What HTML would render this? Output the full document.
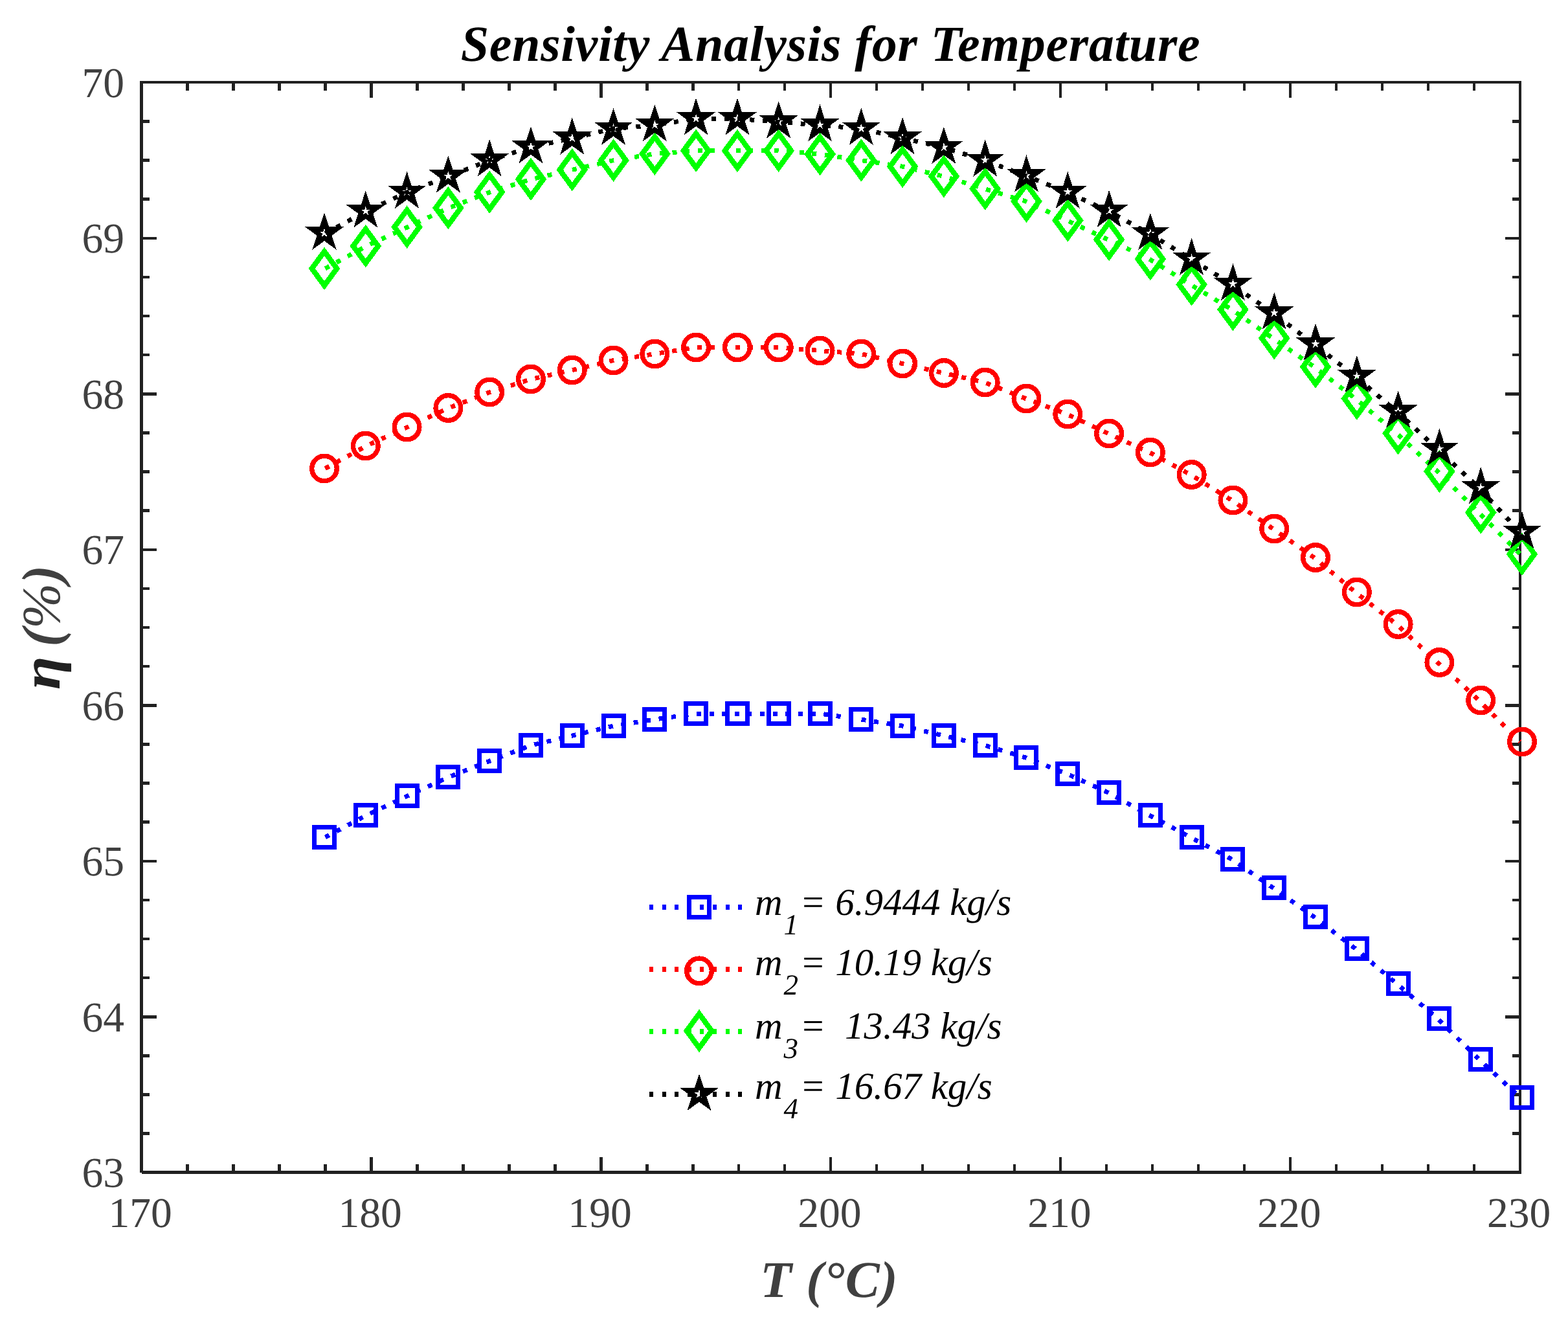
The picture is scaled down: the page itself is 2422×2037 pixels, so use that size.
<!DOCTYPE html>
<html lang="en"><head><meta charset="utf-8"><title>Sensivity Analysis for Temperature</title>
<style>html,body{margin:0;padding:0;background:#fff}body{width:2422px;height:2037px;overflow:hidden}svg{display:block}text{font-family:"Liberation Serif",serif}</style>
</head><body>
<svg width="2422" height="2037" viewBox="0 0 2422 2037" shape-rendering="crispEdges" text-rendering="geometricPrecision">
<rect x="0" y="0" width="2422" height="2037" fill="#ffffff"/>
<g stroke="#212121" stroke-width="4.4" fill="none" stroke-linecap="butt">
<line x1="216.3" y1="127" x2="2350.2" y2="127"/>
<line x1="218.5" y1="1810.5" x2="2350.2" y2="1810.5"/>
<line x1="218.5" y1="124.8" x2="218.5" y2="1811"/>
<line x1="2348" y1="124.8" x2="2348" y2="1812.7"/>
<line x1="289.48" y1="1810.5" x2="289.48" y2="1797.65"/>
<line x1="289.48" y1="127" x2="289.48" y2="139.85"/>
<line x1="360.47" y1="1810.5" x2="360.47" y2="1797.65"/>
<line x1="360.47" y1="127" x2="360.47" y2="139.85"/>
<line x1="431.45" y1="1810.5" x2="431.45" y2="1797.65"/>
<line x1="431.45" y1="127" x2="431.45" y2="139.85"/>
<line x1="502.43" y1="1810.5" x2="502.43" y2="1797.65"/>
<line x1="502.43" y1="127" x2="502.43" y2="139.85"/>
<line x1="573.42" y1="1810.5" x2="573.42" y2="1787"/>
<line x1="573.42" y1="127" x2="573.42" y2="150.5"/>
<line x1="644.4" y1="1810.5" x2="644.4" y2="1797.65"/>
<line x1="644.4" y1="127" x2="644.4" y2="139.85"/>
<line x1="715.38" y1="1810.5" x2="715.38" y2="1797.65"/>
<line x1="715.38" y1="127" x2="715.38" y2="139.85"/>
<line x1="786.37" y1="1810.5" x2="786.37" y2="1797.65"/>
<line x1="786.37" y1="127" x2="786.37" y2="139.85"/>
<line x1="857.35" y1="1810.5" x2="857.35" y2="1797.65"/>
<line x1="857.35" y1="127" x2="857.35" y2="139.85"/>
<line x1="928.33" y1="1810.5" x2="928.33" y2="1787"/>
<line x1="928.33" y1="127" x2="928.33" y2="150.5"/>
<line x1="999.32" y1="1810.5" x2="999.32" y2="1797.65"/>
<line x1="999.32" y1="127" x2="999.32" y2="139.85"/>
<line x1="1070.3" y1="1810.5" x2="1070.3" y2="1797.65"/>
<line x1="1070.3" y1="127" x2="1070.3" y2="139.85"/>
<line x1="1141.28" y1="1810.5" x2="1141.28" y2="1797.65"/>
<line x1="1141.28" y1="127" x2="1141.28" y2="139.85"/>
<line x1="1212.27" y1="1810.5" x2="1212.27" y2="1797.65"/>
<line x1="1212.27" y1="127" x2="1212.27" y2="139.85"/>
<line x1="1283.25" y1="1810.5" x2="1283.25" y2="1787"/>
<line x1="1283.25" y1="127" x2="1283.25" y2="150.5"/>
<line x1="1354.23" y1="1810.5" x2="1354.23" y2="1797.65"/>
<line x1="1354.23" y1="127" x2="1354.23" y2="139.85"/>
<line x1="1425.22" y1="1810.5" x2="1425.22" y2="1797.65"/>
<line x1="1425.22" y1="127" x2="1425.22" y2="139.85"/>
<line x1="1496.2" y1="1810.5" x2="1496.2" y2="1797.65"/>
<line x1="1496.2" y1="127" x2="1496.2" y2="139.85"/>
<line x1="1567.18" y1="1810.5" x2="1567.18" y2="1797.65"/>
<line x1="1567.18" y1="127" x2="1567.18" y2="139.85"/>
<line x1="1638.17" y1="1810.5" x2="1638.17" y2="1787"/>
<line x1="1638.17" y1="127" x2="1638.17" y2="150.5"/>
<line x1="1709.15" y1="1810.5" x2="1709.15" y2="1797.65"/>
<line x1="1709.15" y1="127" x2="1709.15" y2="139.85"/>
<line x1="1780.13" y1="1810.5" x2="1780.13" y2="1797.65"/>
<line x1="1780.13" y1="127" x2="1780.13" y2="139.85"/>
<line x1="1851.12" y1="1810.5" x2="1851.12" y2="1797.65"/>
<line x1="1851.12" y1="127" x2="1851.12" y2="139.85"/>
<line x1="1922.1" y1="1810.5" x2="1922.1" y2="1797.65"/>
<line x1="1922.1" y1="127" x2="1922.1" y2="139.85"/>
<line x1="1993.08" y1="1810.5" x2="1993.08" y2="1787"/>
<line x1="1993.08" y1="127" x2="1993.08" y2="150.5"/>
<line x1="2064.07" y1="1810.5" x2="2064.07" y2="1797.65"/>
<line x1="2064.07" y1="127" x2="2064.07" y2="139.85"/>
<line x1="2135.05" y1="1810.5" x2="2135.05" y2="1797.65"/>
<line x1="2135.05" y1="127" x2="2135.05" y2="139.85"/>
<line x1="2206.03" y1="1810.5" x2="2206.03" y2="1797.65"/>
<line x1="2206.03" y1="127" x2="2206.03" y2="139.85"/>
<line x1="2277.02" y1="1810.5" x2="2277.02" y2="1797.65"/>
<line x1="2277.02" y1="127" x2="2277.02" y2="139.85"/>
<line x1="218.5" y1="1750.67" x2="231.35" y2="1750.67"/>
<line x1="2348" y1="1750.67" x2="2336.05" y2="1750.67"/>
<line x1="218.5" y1="1690.55" x2="231.35" y2="1690.55"/>
<line x1="2348" y1="1690.55" x2="2336.05" y2="1690.55"/>
<line x1="218.5" y1="1630.42" x2="231.35" y2="1630.42"/>
<line x1="2348" y1="1630.42" x2="2336.05" y2="1630.42"/>
<line x1="218.5" y1="1570.3" x2="242" y2="1570.3"/>
<line x1="2348" y1="1570.3" x2="2325.4" y2="1570.3"/>
<line x1="218.5" y1="1510.17" x2="231.35" y2="1510.17"/>
<line x1="2348" y1="1510.17" x2="2336.05" y2="1510.17"/>
<line x1="218.5" y1="1450.05" x2="231.35" y2="1450.05"/>
<line x1="2348" y1="1450.05" x2="2336.05" y2="1450.05"/>
<line x1="218.5" y1="1389.92" x2="231.35" y2="1389.92"/>
<line x1="2348" y1="1389.92" x2="2336.05" y2="1389.92"/>
<line x1="218.5" y1="1329.8" x2="242" y2="1329.8"/>
<line x1="2348" y1="1329.8" x2="2325.4" y2="1329.8"/>
<line x1="218.5" y1="1269.67" x2="231.35" y2="1269.67"/>
<line x1="2348" y1="1269.67" x2="2336.05" y2="1269.67"/>
<line x1="218.5" y1="1209.55" x2="231.35" y2="1209.55"/>
<line x1="2348" y1="1209.55" x2="2336.05" y2="1209.55"/>
<line x1="218.5" y1="1149.42" x2="231.35" y2="1149.42"/>
<line x1="2348" y1="1149.42" x2="2336.05" y2="1149.42"/>
<line x1="218.5" y1="1089.3" x2="242" y2="1089.3"/>
<line x1="2348" y1="1089.3" x2="2325.4" y2="1089.3"/>
<line x1="218.5" y1="1029.17" x2="231.35" y2="1029.17"/>
<line x1="2348" y1="1029.17" x2="2336.05" y2="1029.17"/>
<line x1="218.5" y1="969.05" x2="231.35" y2="969.05"/>
<line x1="2348" y1="969.05" x2="2336.05" y2="969.05"/>
<line x1="218.5" y1="908.92" x2="231.35" y2="908.92"/>
<line x1="2348" y1="908.92" x2="2336.05" y2="908.92"/>
<line x1="218.5" y1="848.8" x2="242" y2="848.8"/>
<line x1="2348" y1="848.8" x2="2325.4" y2="848.8"/>
<line x1="218.5" y1="788.67" x2="231.35" y2="788.67"/>
<line x1="2348" y1="788.67" x2="2336.05" y2="788.67"/>
<line x1="218.5" y1="728.55" x2="231.35" y2="728.55"/>
<line x1="2348" y1="728.55" x2="2336.05" y2="728.55"/>
<line x1="218.5" y1="668.42" x2="231.35" y2="668.42"/>
<line x1="2348" y1="668.42" x2="2336.05" y2="668.42"/>
<line x1="218.5" y1="608.3" x2="242" y2="608.3"/>
<line x1="2348" y1="608.3" x2="2325.4" y2="608.3"/>
<line x1="218.5" y1="548.17" x2="231.35" y2="548.17"/>
<line x1="2348" y1="548.17" x2="2336.05" y2="548.17"/>
<line x1="218.5" y1="488.05" x2="231.35" y2="488.05"/>
<line x1="2348" y1="488.05" x2="2336.05" y2="488.05"/>
<line x1="218.5" y1="427.93" x2="231.35" y2="427.93"/>
<line x1="2348" y1="427.93" x2="2336.05" y2="427.93"/>
<line x1="218.5" y1="367.8" x2="242" y2="367.8"/>
<line x1="2348" y1="367.8" x2="2325.4" y2="367.8"/>
<line x1="218.5" y1="307.68" x2="231.35" y2="307.68"/>
<line x1="2348" y1="307.68" x2="2336.05" y2="307.68"/>
<line x1="218.5" y1="247.55" x2="231.35" y2="247.55"/>
<line x1="2348" y1="247.55" x2="2336.05" y2="247.55"/>
<line x1="218.5" y1="187.43" x2="231.35" y2="187.43"/>
<line x1="2348" y1="187.43" x2="2336.05" y2="187.43"/>
</g>
<g fill="#404040" font-size="65.6px">
<text x="216.7" y="1894.8" text-anchor="middle">170</text>
<text x="571.62" y="1894.8" text-anchor="middle">180</text>
<text x="926.53" y="1894.8" text-anchor="middle">190</text>
<text x="1281.45" y="1894.8" text-anchor="middle">200</text>
<text x="1636.37" y="1894.8" text-anchor="middle">210</text>
<text x="1991.28" y="1894.8" text-anchor="middle">220</text>
<text x="2346.2" y="1894.8" text-anchor="middle">230</text>
<text x="192" y="1833" text-anchor="end">63</text>
<text x="192" y="1592.5" text-anchor="end">64</text>
<text x="192" y="1352" text-anchor="end">65</text>
<text x="192" y="1111.5" text-anchor="end">66</text>
<text x="192" y="871" text-anchor="end">67</text>
<text x="192" y="630.5" text-anchor="end">68</text>
<text x="192" y="390" text-anchor="end">69</text>
<text x="192" y="149.5" text-anchor="end">70</text>
</g>
<text x="1283" y="94" text-anchor="middle" font-size="78px" letter-spacing="0.7" font-weight="bold" font-style="italic" fill="#000000">Sensivity Analysis for Temperature</text>
<text x="1281" y="2003" text-anchor="middle" font-size="79.5px" letter-spacing="1.2" font-weight="bold" font-style="italic" fill="#404040">T (°C)</text>
<text transform="translate(92.3,1065.3) rotate(-90) scale(1.12,1)" font-size="84.5px" font-weight="bold" font-style="italic" fill="#212121">η</text>
<text transform="translate(92,998.7) rotate(-90)" font-size="84px" font-weight="bold" font-style="italic" fill="#404040">(<tspan font-weight="normal">%</tspan>)</text>
<g>
<polyline points="502.4,1293 566.04,1259 629.68,1229 693.32,1200 756.97,1175 820.61,1151 884.25,1136 947.89,1121 1011.53,1111 1075.17,1102 1138.81,1102 1202.46,1102 1266.1,1102 1329.74,1111 1393.38,1121 1457.02,1136 1520.66,1151 1584.3,1170 1647.94,1195 1711.59,1224 1775.23,1259 1838.87,1293 1902.51,1327 1966.15,1371 2029.79,1416 2093.43,1465 2157.08,1519 2220.72,1573 2284.36,1636 2348,1695" fill="none" stroke="#0000ff" stroke-width="7" stroke-dasharray="7 12.645"/>
<rect x="485.5" y="1277.5" width="31" height="31" fill="none" stroke="#0000ff" stroke-width="7"/>
<rect x="549.29" y="1243.5" width="31" height="31" fill="none" stroke="#0000ff" stroke-width="7"/>
<rect x="613.09" y="1213.5" width="31" height="31" fill="none" stroke="#0000ff" stroke-width="7"/>
<rect x="676.88" y="1184.5" width="31" height="31" fill="none" stroke="#0000ff" stroke-width="7"/>
<rect x="740.67" y="1159.5" width="31" height="31" fill="none" stroke="#0000ff" stroke-width="7"/>
<rect x="804.47" y="1135.5" width="31" height="31" fill="none" stroke="#0000ff" stroke-width="7"/>
<rect x="868.26" y="1120.5" width="31" height="31" fill="none" stroke="#0000ff" stroke-width="7"/>
<rect x="932.05" y="1105.5" width="31" height="31" fill="none" stroke="#0000ff" stroke-width="7"/>
<rect x="995.84" y="1095.5" width="31" height="31" fill="none" stroke="#0000ff" stroke-width="7"/>
<rect x="1059.64" y="1086.5" width="31" height="31" fill="none" stroke="#0000ff" stroke-width="7"/>
<rect x="1123.43" y="1086.5" width="31" height="31" fill="none" stroke="#0000ff" stroke-width="7"/>
<rect x="1187.22" y="1086.5" width="31" height="31" fill="none" stroke="#0000ff" stroke-width="7"/>
<rect x="1251.02" y="1086.5" width="31" height="31" fill="none" stroke="#0000ff" stroke-width="7"/>
<rect x="1314.81" y="1095.5" width="31" height="31" fill="none" stroke="#0000ff" stroke-width="7"/>
<rect x="1378.6" y="1105.5" width="31" height="31" fill="none" stroke="#0000ff" stroke-width="7"/>
<rect x="1442.4" y="1120.5" width="31" height="31" fill="none" stroke="#0000ff" stroke-width="7"/>
<rect x="1506.19" y="1135.5" width="31" height="31" fill="none" stroke="#0000ff" stroke-width="7"/>
<rect x="1569.98" y="1154.5" width="31" height="31" fill="none" stroke="#0000ff" stroke-width="7"/>
<rect x="1633.78" y="1179.5" width="31" height="31" fill="none" stroke="#0000ff" stroke-width="7"/>
<rect x="1697.57" y="1208.5" width="31" height="31" fill="none" stroke="#0000ff" stroke-width="7"/>
<rect x="1761.36" y="1243.5" width="31" height="31" fill="none" stroke="#0000ff" stroke-width="7"/>
<rect x="1825.16" y="1277.5" width="31" height="31" fill="none" stroke="#0000ff" stroke-width="7"/>
<rect x="1888.95" y="1311.5" width="31" height="31" fill="none" stroke="#0000ff" stroke-width="7"/>
<rect x="1952.74" y="1355.5" width="31" height="31" fill="none" stroke="#0000ff" stroke-width="7"/>
<rect x="2016.53" y="1400.5" width="31" height="31" fill="none" stroke="#0000ff" stroke-width="7"/>
<rect x="2080.33" y="1449.5" width="31" height="31" fill="none" stroke="#0000ff" stroke-width="7"/>
<rect x="2144.12" y="1503.5" width="31" height="31" fill="none" stroke="#0000ff" stroke-width="7"/>
<rect x="2207.91" y="1557.5" width="31" height="31" fill="none" stroke="#0000ff" stroke-width="7"/>
<rect x="2271.71" y="1620.5" width="31" height="31" fill="none" stroke="#0000ff" stroke-width="7"/>
<rect x="2335.5" y="1679.5" width="31" height="31" fill="none" stroke="#0000ff" stroke-width="7"/>
<polyline points="502.4,723.5 566.04,688.5 629.68,659.5 693.32,630 756.97,605.5 820.61,585.5 884.25,571.5 947.89,556.5 1011.53,546.5 1075.17,536.5 1138.81,536.5 1202.46,536.5 1266.1,541.5 1329.74,546.5 1393.38,561.5 1457.02,576 1520.66,590.5 1584.3,615.5 1647.94,639.5 1711.59,669.5 1775.23,698.5 1838.87,733 1902.51,772.5 1966.15,816.5 2029.79,861 2093.43,914.5 2157.08,964 2220.72,1023 2284.36,1081.5 2348,1145.5" fill="none" stroke="#ff0000" stroke-width="7" stroke-dasharray="7 12.645"/>
<circle cx="501" cy="723.5" r="19.3" fill="none" stroke="#ff0000" stroke-width="7.4"/>
<circle cx="564.79" cy="688.5" r="19.3" fill="none" stroke="#ff0000" stroke-width="7.4"/>
<circle cx="628.59" cy="659.5" r="19.3" fill="none" stroke="#ff0000" stroke-width="7.4"/>
<circle cx="692.38" cy="630" r="19.3" fill="none" stroke="#ff0000" stroke-width="7.4"/>
<circle cx="756.17" cy="605.5" r="19.3" fill="none" stroke="#ff0000" stroke-width="7.4"/>
<circle cx="819.97" cy="585.5" r="19.3" fill="none" stroke="#ff0000" stroke-width="7.4"/>
<circle cx="883.76" cy="571.5" r="19.3" fill="none" stroke="#ff0000" stroke-width="7.4"/>
<circle cx="947.55" cy="556.5" r="19.3" fill="none" stroke="#ff0000" stroke-width="7.4"/>
<circle cx="1011.34" cy="546.5" r="19.3" fill="none" stroke="#ff0000" stroke-width="7.4"/>
<circle cx="1075.14" cy="536.5" r="19.3" fill="none" stroke="#ff0000" stroke-width="7.4"/>
<circle cx="1138.93" cy="536.5" r="19.3" fill="none" stroke="#ff0000" stroke-width="7.4"/>
<circle cx="1202.72" cy="536.5" r="19.3" fill="none" stroke="#ff0000" stroke-width="7.4"/>
<circle cx="1266.52" cy="541.5" r="19.3" fill="none" stroke="#ff0000" stroke-width="7.4"/>
<circle cx="1330.31" cy="546.5" r="19.3" fill="none" stroke="#ff0000" stroke-width="7.4"/>
<circle cx="1394.1" cy="561.5" r="19.3" fill="none" stroke="#ff0000" stroke-width="7.4"/>
<circle cx="1457.9" cy="576" r="19.3" fill="none" stroke="#ff0000" stroke-width="7.4"/>
<circle cx="1521.69" cy="590.5" r="19.3" fill="none" stroke="#ff0000" stroke-width="7.4"/>
<circle cx="1585.48" cy="615.5" r="19.3" fill="none" stroke="#ff0000" stroke-width="7.4"/>
<circle cx="1649.28" cy="639.5" r="19.3" fill="none" stroke="#ff0000" stroke-width="7.4"/>
<circle cx="1713.07" cy="669.5" r="19.3" fill="none" stroke="#ff0000" stroke-width="7.4"/>
<circle cx="1776.86" cy="698.5" r="19.3" fill="none" stroke="#ff0000" stroke-width="7.4"/>
<circle cx="1840.66" cy="733" r="19.3" fill="none" stroke="#ff0000" stroke-width="7.4"/>
<circle cx="1904.45" cy="772.5" r="19.3" fill="none" stroke="#ff0000" stroke-width="7.4"/>
<circle cx="1968.24" cy="816.5" r="19.3" fill="none" stroke="#ff0000" stroke-width="7.4"/>
<circle cx="2032.03" cy="861" r="19.3" fill="none" stroke="#ff0000" stroke-width="7.4"/>
<circle cx="2095.83" cy="914.5" r="19.3" fill="none" stroke="#ff0000" stroke-width="7.4"/>
<circle cx="2159.62" cy="964" r="19.3" fill="none" stroke="#ff0000" stroke-width="7.4"/>
<circle cx="2223.41" cy="1023" r="19.3" fill="none" stroke="#ff0000" stroke-width="7.4"/>
<circle cx="2287.21" cy="1081.5" r="19.3" fill="none" stroke="#ff0000" stroke-width="7.4"/>
<circle cx="2351" cy="1145.5" r="19.3" fill="none" stroke="#ff0000" stroke-width="7.4"/>
<polyline points="502.4,414.7 566.04,380 629.68,350.6 693.32,321.1 756.97,296.6 820.61,276.8 884.25,262.2 947.89,247.6 1011.53,237.6 1075.17,232.7 1138.81,232.9 1202.46,232.7 1266.1,238 1329.74,247.5 1393.38,257.1 1457.02,272.2 1520.66,291.5 1584.3,310.9 1647.94,340.4 1711.59,370 1775.23,400 1838.87,439.4 1902.51,478 1966.15,522.3 2029.79,566.5 2093.43,615.5 2157.08,669.2 2220.72,727.9 2284.36,791.5 2348,855.8" fill="none" stroke="#00ff00" stroke-width="7" stroke-dasharray="7 12.645"/>
<polygon points="501,388.4 520.3,414.7 501,441 481.7,414.7" fill="none" stroke="#00ff00" stroke-width="8.2" stroke-linejoin="miter" stroke-miterlimit="10"/>
<polygon points="564.79,353.7 584.09,380 564.79,406.3 545.49,380" fill="none" stroke="#00ff00" stroke-width="8.2" stroke-linejoin="miter" stroke-miterlimit="10"/>
<polygon points="628.59,324.3 647.89,350.6 628.59,376.9 609.29,350.6" fill="none" stroke="#00ff00" stroke-width="8.2" stroke-linejoin="miter" stroke-miterlimit="10"/>
<polygon points="692.38,294.8 711.68,321.1 692.38,347.4 673.08,321.1" fill="none" stroke="#00ff00" stroke-width="8.2" stroke-linejoin="miter" stroke-miterlimit="10"/>
<polygon points="756.17,270.3 775.47,296.6 756.17,322.9 736.87,296.6" fill="none" stroke="#00ff00" stroke-width="8.2" stroke-linejoin="miter" stroke-miterlimit="10"/>
<polygon points="819.97,250.5 839.27,276.8 819.97,303.1 800.67,276.8" fill="none" stroke="#00ff00" stroke-width="8.2" stroke-linejoin="miter" stroke-miterlimit="10"/>
<polygon points="883.76,235.9 903.06,262.2 883.76,288.5 864.46,262.2" fill="none" stroke="#00ff00" stroke-width="8.2" stroke-linejoin="miter" stroke-miterlimit="10"/>
<polygon points="947.55,221.3 966.85,247.6 947.55,273.9 928.25,247.6" fill="none" stroke="#00ff00" stroke-width="8.2" stroke-linejoin="miter" stroke-miterlimit="10"/>
<polygon points="1011.34,211.3 1030.64,237.6 1011.34,263.9 992.04,237.6" fill="none" stroke="#00ff00" stroke-width="8.2" stroke-linejoin="miter" stroke-miterlimit="10"/>
<polygon points="1075.14,206.4 1094.44,232.7 1075.14,259 1055.84,232.7" fill="none" stroke="#00ff00" stroke-width="8.2" stroke-linejoin="miter" stroke-miterlimit="10"/>
<polygon points="1138.93,206.6 1158.23,232.9 1138.93,259.2 1119.63,232.9" fill="none" stroke="#00ff00" stroke-width="8.2" stroke-linejoin="miter" stroke-miterlimit="10"/>
<polygon points="1202.72,206.4 1222.02,232.7 1202.72,259 1183.42,232.7" fill="none" stroke="#00ff00" stroke-width="8.2" stroke-linejoin="miter" stroke-miterlimit="10"/>
<polygon points="1266.52,211.7 1285.82,238 1266.52,264.3 1247.22,238" fill="none" stroke="#00ff00" stroke-width="8.2" stroke-linejoin="miter" stroke-miterlimit="10"/>
<polygon points="1330.31,221.2 1349.61,247.5 1330.31,273.8 1311.01,247.5" fill="none" stroke="#00ff00" stroke-width="8.2" stroke-linejoin="miter" stroke-miterlimit="10"/>
<polygon points="1394.1,230.8 1413.4,257.1 1394.1,283.4 1374.8,257.1" fill="none" stroke="#00ff00" stroke-width="8.2" stroke-linejoin="miter" stroke-miterlimit="10"/>
<polygon points="1457.9,245.9 1477.2,272.2 1457.9,298.5 1438.6,272.2" fill="none" stroke="#00ff00" stroke-width="8.2" stroke-linejoin="miter" stroke-miterlimit="10"/>
<polygon points="1521.69,265.2 1540.99,291.5 1521.69,317.8 1502.39,291.5" fill="none" stroke="#00ff00" stroke-width="8.2" stroke-linejoin="miter" stroke-miterlimit="10"/>
<polygon points="1585.48,284.6 1604.78,310.9 1585.48,337.2 1566.18,310.9" fill="none" stroke="#00ff00" stroke-width="8.2" stroke-linejoin="miter" stroke-miterlimit="10"/>
<polygon points="1649.28,314.1 1668.58,340.4 1649.28,366.7 1629.98,340.4" fill="none" stroke="#00ff00" stroke-width="8.2" stroke-linejoin="miter" stroke-miterlimit="10"/>
<polygon points="1713.07,343.7 1732.37,370 1713.07,396.3 1693.77,370" fill="none" stroke="#00ff00" stroke-width="8.2" stroke-linejoin="miter" stroke-miterlimit="10"/>
<polygon points="1776.86,373.7 1796.16,400 1776.86,426.3 1757.56,400" fill="none" stroke="#00ff00" stroke-width="8.2" stroke-linejoin="miter" stroke-miterlimit="10"/>
<polygon points="1840.66,413.1 1859.96,439.4 1840.66,465.7 1821.36,439.4" fill="none" stroke="#00ff00" stroke-width="8.2" stroke-linejoin="miter" stroke-miterlimit="10"/>
<polygon points="1904.45,451.7 1923.75,478 1904.45,504.3 1885.15,478" fill="none" stroke="#00ff00" stroke-width="8.2" stroke-linejoin="miter" stroke-miterlimit="10"/>
<polygon points="1968.24,496 1987.54,522.3 1968.24,548.6 1948.94,522.3" fill="none" stroke="#00ff00" stroke-width="8.2" stroke-linejoin="miter" stroke-miterlimit="10"/>
<polygon points="2032.03,540.2 2051.33,566.5 2032.03,592.8 2012.73,566.5" fill="none" stroke="#00ff00" stroke-width="8.2" stroke-linejoin="miter" stroke-miterlimit="10"/>
<polygon points="2095.83,589.2 2115.13,615.5 2095.83,641.8 2076.53,615.5" fill="none" stroke="#00ff00" stroke-width="8.2" stroke-linejoin="miter" stroke-miterlimit="10"/>
<polygon points="2159.62,642.9 2178.92,669.2 2159.62,695.5 2140.32,669.2" fill="none" stroke="#00ff00" stroke-width="8.2" stroke-linejoin="miter" stroke-miterlimit="10"/>
<polygon points="2223.41,701.6 2242.71,727.9 2223.41,754.2 2204.11,727.9" fill="none" stroke="#00ff00" stroke-width="8.2" stroke-linejoin="miter" stroke-miterlimit="10"/>
<polygon points="2287.21,765.2 2306.51,791.5 2287.21,817.8 2267.91,791.5" fill="none" stroke="#00ff00" stroke-width="8.2" stroke-linejoin="miter" stroke-miterlimit="10"/>
<polygon points="2351,829.5 2370.3,855.8 2351,882.1 2331.7,855.8" fill="none" stroke="#00ff00" stroke-width="8.2" stroke-linejoin="miter" stroke-miterlimit="10"/>
<polyline points="502.4,360.3 566.04,326.3 629.68,296.6 693.32,272.3 756.97,247.2 820.61,227.1 884.25,213.5 947.89,198.6 1011.53,193.2 1075.17,183.3 1138.81,183.3 1202.46,188.3 1266.1,193.2 1329.74,198.7 1393.38,213.1 1457.02,227.7 1520.66,247.6 1584.3,271.3 1647.94,296.7 1711.59,325.7 1775.23,360.6 1838.87,399.7 1902.51,438.9 1966.15,483.4 2029.79,531.5 2093.43,581.1 2157.08,635.3 2220.72,693.7 2284.36,753.2 2348,821.8" fill="none" stroke="#000000" stroke-width="7" stroke-dasharray="7 12.645"/>
<polygon points="501,340.5 505.38,353.97 519.55,353.97 508.08,362.3 512.46,375.78 501,367.45 489.54,375.78 493.92,362.3 482.45,353.97 496.62,353.97" fill="none" stroke="#000000" stroke-width="7.5" stroke-linejoin="miter" stroke-miterlimit="10"/>
<polygon points="564.79,306.5 569.17,319.97 583.34,319.97 571.88,328.3 576.25,341.78 564.79,333.45 553.33,341.78 557.71,328.3 546.25,319.97 560.42,319.97" fill="none" stroke="#000000" stroke-width="7.5" stroke-linejoin="miter" stroke-miterlimit="10"/>
<polygon points="628.59,276.8 632.96,290.27 647.13,290.27 635.67,298.6 640.05,312.08 628.59,303.75 617.12,312.08 621.5,298.6 610.04,290.27 624.21,290.27" fill="none" stroke="#000000" stroke-width="7.5" stroke-linejoin="miter" stroke-miterlimit="10"/>
<polygon points="692.38,252.5 696.76,265.97 710.92,265.97 699.46,274.3 703.84,287.78 692.38,279.45 680.92,287.78 685.3,274.3 673.83,265.97 688,265.97" fill="none" stroke="#000000" stroke-width="7.5" stroke-linejoin="miter" stroke-miterlimit="10"/>
<polygon points="756.17,227.4 760.55,240.87 774.72,240.87 763.26,249.2 767.63,262.68 756.17,254.35 744.71,262.68 749.09,249.2 737.63,240.87 751.79,240.87" fill="none" stroke="#000000" stroke-width="7.5" stroke-linejoin="miter" stroke-miterlimit="10"/>
<polygon points="819.97,207.3 824.34,220.77 838.51,220.77 827.05,229.1 831.43,242.58 819.97,234.25 808.5,242.58 812.88,229.1 801.42,220.77 815.59,220.77" fill="none" stroke="#000000" stroke-width="7.5" stroke-linejoin="miter" stroke-miterlimit="10"/>
<polygon points="883.76,193.7 888.14,207.17 902.3,207.17 890.84,215.5 895.22,228.98 883.76,220.65 872.3,228.98 876.67,215.5 865.21,207.17 879.38,207.17" fill="none" stroke="#000000" stroke-width="7.5" stroke-linejoin="miter" stroke-miterlimit="10"/>
<polygon points="947.55,178.8 951.93,192.27 966.1,192.27 954.64,200.6 959.01,214.08 947.55,205.75 936.09,214.08 940.47,200.6 929.01,192.27 943.17,192.27" fill="none" stroke="#000000" stroke-width="7.5" stroke-linejoin="miter" stroke-miterlimit="10"/>
<polygon points="1011.34,173.4 1015.72,186.87 1029.89,186.87 1018.43,195.2 1022.81,208.68 1011.34,200.35 999.88,208.68 1004.26,195.2 992.8,186.87 1006.97,186.87" fill="none" stroke="#000000" stroke-width="7.5" stroke-linejoin="miter" stroke-miterlimit="10"/>
<polygon points="1075.14,163.5 1079.52,176.97 1093.68,176.97 1082.22,185.3 1086.6,198.78 1075.14,190.45 1063.68,198.78 1068.05,185.3 1056.59,176.97 1070.76,176.97" fill="none" stroke="#000000" stroke-width="7.5" stroke-linejoin="miter" stroke-miterlimit="10"/>
<polygon points="1138.93,163.5 1143.31,176.97 1157.48,176.97 1146.01,185.3 1150.39,198.78 1138.93,190.45 1127.47,198.78 1131.85,185.3 1120.39,176.97 1134.55,176.97" fill="none" stroke="#000000" stroke-width="7.5" stroke-linejoin="miter" stroke-miterlimit="10"/>
<polygon points="1202.72,168.5 1207.1,181.97 1221.27,181.97 1209.81,190.3 1214.19,203.78 1202.72,195.45 1191.26,203.78 1195.64,190.3 1184.18,181.97 1198.35,181.97" fill="none" stroke="#000000" stroke-width="7.5" stroke-linejoin="miter" stroke-miterlimit="10"/>
<polygon points="1266.52,173.4 1270.9,186.87 1285.06,186.87 1273.6,195.2 1277.98,208.68 1266.52,200.35 1255.06,208.68 1259.43,195.2 1247.97,186.87 1262.14,186.87" fill="none" stroke="#000000" stroke-width="7.5" stroke-linejoin="miter" stroke-miterlimit="10"/>
<polygon points="1330.31,178.9 1334.69,192.37 1348.86,192.37 1337.39,200.7 1341.77,214.18 1330.31,205.85 1318.85,214.18 1323.23,200.7 1311.76,192.37 1325.93,192.37" fill="none" stroke="#000000" stroke-width="7.5" stroke-linejoin="miter" stroke-miterlimit="10"/>
<polygon points="1394.1,193.3 1398.48,206.77 1412.65,206.77 1401.19,215.1 1405.57,228.58 1394.1,220.25 1382.64,228.58 1387.02,215.1 1375.56,206.77 1389.73,206.77" fill="none" stroke="#000000" stroke-width="7.5" stroke-linejoin="miter" stroke-miterlimit="10"/>
<polygon points="1457.9,207.9 1462.27,221.37 1476.44,221.37 1464.98,229.7 1469.36,243.18 1457.9,234.85 1446.43,243.18 1450.81,229.7 1439.35,221.37 1453.52,221.37" fill="none" stroke="#000000" stroke-width="7.5" stroke-linejoin="miter" stroke-miterlimit="10"/>
<polygon points="1521.69,227.8 1526.07,241.27 1540.24,241.27 1528.77,249.6 1533.15,263.08 1521.69,254.75 1510.23,263.08 1514.61,249.6 1503.14,241.27 1517.31,241.27" fill="none" stroke="#000000" stroke-width="7.5" stroke-linejoin="miter" stroke-miterlimit="10"/>
<polygon points="1585.48,251.5 1589.86,264.97 1604.03,264.97 1592.57,273.3 1596.94,286.78 1585.48,278.45 1574.02,286.78 1578.4,273.3 1566.94,264.97 1581.1,264.97" fill="none" stroke="#000000" stroke-width="7.5" stroke-linejoin="miter" stroke-miterlimit="10"/>
<polygon points="1649.28,276.9 1653.65,290.37 1667.82,290.37 1656.36,298.7 1660.74,312.18 1649.28,303.85 1637.81,312.18 1642.19,298.7 1630.73,290.37 1644.9,290.37" fill="none" stroke="#000000" stroke-width="7.5" stroke-linejoin="miter" stroke-miterlimit="10"/>
<polygon points="1713.07,305.9 1717.45,319.37 1731.61,319.37 1720.15,327.7 1724.53,341.18 1713.07,332.85 1701.61,341.18 1705.99,327.7 1694.52,319.37 1708.69,319.37" fill="none" stroke="#000000" stroke-width="7.5" stroke-linejoin="miter" stroke-miterlimit="10"/>
<polygon points="1776.86,340.8 1781.24,354.27 1795.41,354.27 1783.95,362.6 1788.32,376.08 1776.86,367.75 1765.4,376.08 1769.78,362.6 1758.32,354.27 1772.48,354.27" fill="none" stroke="#000000" stroke-width="7.5" stroke-linejoin="miter" stroke-miterlimit="10"/>
<polygon points="1840.66,379.9 1845.03,393.37 1859.2,393.37 1847.74,401.7 1852.12,415.18 1840.66,406.85 1829.19,415.18 1833.57,401.7 1822.11,393.37 1836.28,393.37" fill="none" stroke="#000000" stroke-width="7.5" stroke-linejoin="miter" stroke-miterlimit="10"/>
<polygon points="1904.45,419.1 1908.83,432.57 1922.99,432.57 1911.53,440.9 1915.91,454.38 1904.45,446.05 1892.99,454.38 1897.36,440.9 1885.9,432.57 1900.07,432.57" fill="none" stroke="#000000" stroke-width="7.5" stroke-linejoin="miter" stroke-miterlimit="10"/>
<polygon points="1968.24,463.6 1972.62,477.07 1986.79,477.07 1975.33,485.4 1979.7,498.88 1968.24,490.55 1956.78,498.88 1961.16,485.4 1949.7,477.07 1963.86,477.07" fill="none" stroke="#000000" stroke-width="7.5" stroke-linejoin="miter" stroke-miterlimit="10"/>
<polygon points="2032.03,511.7 2036.41,525.17 2050.58,525.17 2039.12,533.5 2043.5,546.98 2032.03,538.65 2020.57,546.98 2024.95,533.5 2013.49,525.17 2027.66,525.17" fill="none" stroke="#000000" stroke-width="7.5" stroke-linejoin="miter" stroke-miterlimit="10"/>
<polygon points="2095.83,561.3 2100.21,574.77 2114.37,574.77 2102.91,583.1 2107.29,596.58 2095.83,588.25 2084.37,596.58 2088.74,583.1 2077.28,574.77 2091.45,574.77" fill="none" stroke="#000000" stroke-width="7.5" stroke-linejoin="miter" stroke-miterlimit="10"/>
<polygon points="2159.62,615.5 2164,628.97 2178.17,628.97 2166.7,637.3 2171.08,650.78 2159.62,642.45 2148.16,650.78 2152.54,637.3 2141.08,628.97 2155.24,628.97" fill="none" stroke="#000000" stroke-width="7.5" stroke-linejoin="miter" stroke-miterlimit="10"/>
<polygon points="2223.41,673.9 2227.79,687.37 2241.96,687.37 2230.5,695.7 2234.88,709.18 2223.41,700.85 2211.95,709.18 2216.33,695.7 2204.87,687.37 2219.04,687.37" fill="none" stroke="#000000" stroke-width="7.5" stroke-linejoin="miter" stroke-miterlimit="10"/>
<polygon points="2287.21,733.4 2291.58,746.87 2305.75,746.87 2294.29,755.2 2298.67,768.68 2287.21,760.35 2275.75,768.68 2280.12,755.2 2268.66,746.87 2282.83,746.87" fill="none" stroke="#000000" stroke-width="7.5" stroke-linejoin="miter" stroke-miterlimit="10"/>
<polygon points="2351,802 2355.38,815.47 2369.55,815.47 2358.08,823.8 2362.46,837.28 2351,828.95 2339.54,837.28 2343.92,823.8 2332.45,815.47 2346.62,815.47" fill="none" stroke="#000000" stroke-width="7.5" stroke-linejoin="miter" stroke-miterlimit="10"/>
</g>
<g>
<line x1="1003" y1="1401" x2="1148" y2="1401" stroke="#0000ff" stroke-width="8" stroke-dasharray="6 13.6"/>
<rect x="1064.5" y="1385.5" width="31" height="31" fill="none" stroke="#0000ff" stroke-width="7"/>
<text x="1166" y="1412.7" font-size="59px" font-style="italic" fill="#000000" xml:space="preserve">m<tspan font-size="45px" dx="2" dy="30">1</tspan><tspan dx="2.5" dy="-30">= 6.9444 kg/s</tspan></text>
<line x1="1003" y1="1497.3" x2="1148" y2="1497.3" stroke="#ff0000" stroke-width="8" stroke-dasharray="6 13.6"/>
<circle cx="1080" cy="1499.4" r="19.3" fill="none" stroke="#ff0000" stroke-width="7.4"/>
<text x="1166" y="1505.8" font-size="59px" font-style="italic" fill="#000000" xml:space="preserve">m<tspan font-size="45px" dx="2" dy="30">2</tspan><tspan dx="2.5" dy="-30">= 10.19 kg/s</tspan></text>
<line x1="1003" y1="1593.4" x2="1148" y2="1593.4" stroke="#00ff00" stroke-width="8" stroke-dasharray="6 13.6"/>
<polygon points="1080,1565.7 1099.3,1592 1080,1618.3 1060.7,1592" fill="none" stroke="#00ff00" stroke-width="8.2" stroke-linejoin="miter" stroke-miterlimit="10"/>
<text x="1166" y="1603.6" font-size="59px" font-style="italic" fill="#000000" xml:space="preserve">m<tspan font-size="45px" dx="2" dy="30">3</tspan><tspan dx="2.5" dy="-30">=  13.43 kg/s</tspan></text>
<line x1="1003" y1="1690" x2="1148" y2="1690" stroke="#000000" stroke-width="8" stroke-dasharray="6 13.6"/>
<polygon points="1080,1670.2 1084.38,1683.67 1098.55,1683.67 1087.08,1692 1091.46,1705.48 1080,1697.15 1068.54,1705.48 1072.92,1692 1061.45,1683.67 1075.62,1683.67" fill="none" stroke="#000000" stroke-width="7.5" stroke-linejoin="miter" stroke-miterlimit="10"/>
<text x="1166" y="1697" font-size="59px" font-style="italic" fill="#000000" xml:space="preserve">m<tspan font-size="45px" dx="2" dy="30">4</tspan><tspan dx="2.5" dy="-30">= 16.67 kg/s</tspan></text>
</g>
</svg>
</body></html>
